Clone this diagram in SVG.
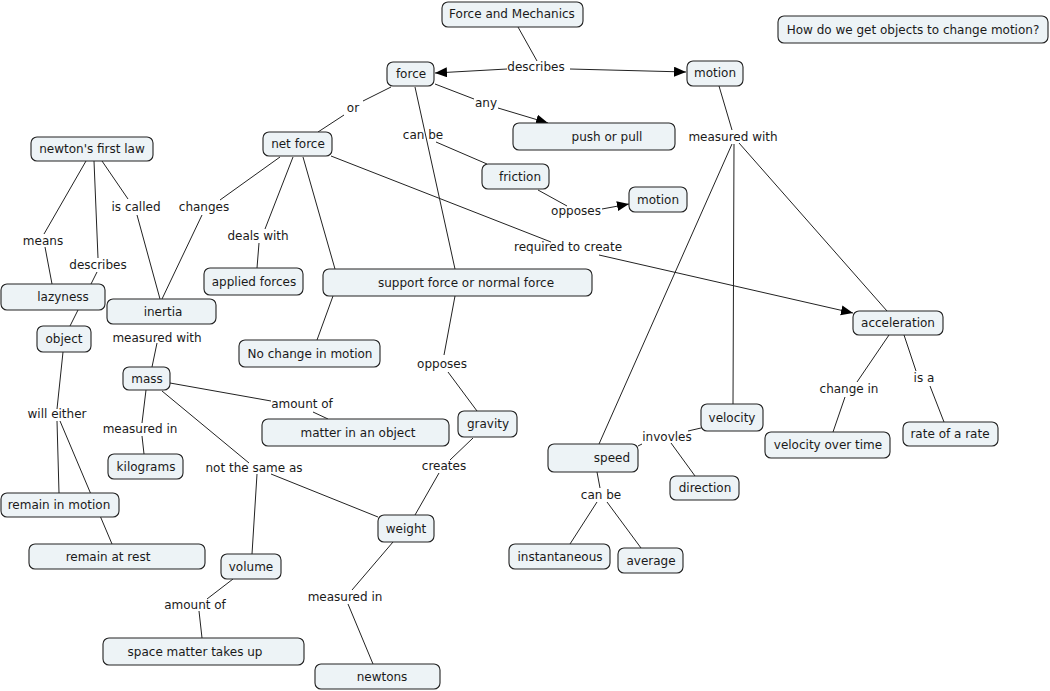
<svg xmlns="http://www.w3.org/2000/svg" width="1050" height="691" viewBox="0 0 1050 691">
<style>
.n rect{fill:#edf3f6;stroke:#222;stroke-width:1.1}
text{font-family:"DejaVu Sans",Verdana,sans-serif;font-size:12px;fill:#1a1a1a;text-anchor:middle}
#links line{stroke:#222;stroke-width:1}
#links line.a{marker-end:url(#arr)}
</style>
<defs>
<marker id="arr" markerUnits="userSpaceOnUse" markerWidth="13" markerHeight="11" refX="12" refY="5" orient="auto">
<path d="M0,0 L12,5 L0,10 Z" fill="#000"/>
</marker>
</defs>
<rect width="1050" height="691" fill="#fff"/>
<g id="links">
<line x1="518" y1="27" x2="537" y2="61"/>
<line class="a" x1="507" y1="69" x2="435" y2="73"/>
<line class="a" x1="570" y1="69" x2="686" y2="72"/>
<line x1="391" y1="87" x2="363" y2="101"/>
<line x1="344" y1="115" x2="318" y2="132"/>
<line x1="435" y1="84" x2="474" y2="99"/>
<line class="a" x1="498" y1="108" x2="548" y2="123"/>
<line x1="415" y1="87" x2="455" y2="269"/>
<line x1="436" y1="142" x2="487" y2="164"/>
<line x1="719" y1="86" x2="732" y2="130"/>
<line x1="732" y1="144" x2="599" y2="444"/>
<line x1="734" y1="144" x2="733" y2="404"/>
<line x1="739" y1="143" x2="887" y2="311"/>
<line x1="86" y1="161" x2="44" y2="234"/>
<line x1="45" y1="247" x2="52" y2="284"/>
<line x1="94" y1="161" x2="98" y2="258"/>
<line x1="97" y1="272" x2="70" y2="326"/>
<line x1="102" y1="161" x2="128" y2="199"/>
<line x1="137" y1="215" x2="160" y2="299"/>
<line x1="280" y1="157" x2="220" y2="200"/>
<line x1="202" y1="215" x2="162" y2="299"/>
<line x1="293" y1="157" x2="265" y2="229"/>
<line x1="259" y1="243" x2="257" y2="268"/>
<line x1="303" y1="157" x2="335" y2="269"/>
<line x1="333" y1="296" x2="317" y2="340"/>
<line x1="331" y1="156" x2="551" y2="242"/>
<line class="a" x1="599" y1="255" x2="853" y2="313"/>
<line x1="538" y1="190" x2="567" y2="206"/>
<line class="a" x1="602" y1="209" x2="629" y2="204"/>
<line x1="455" y1="296" x2="444" y2="355"/>
<line x1="448" y1="372" x2="477" y2="411"/>
<line x1="157" y1="343" x2="152" y2="367"/>
<line x1="63" y1="352" x2="57" y2="409"/>
<line x1="57" y1="421" x2="59" y2="493"/>
<line x1="60" y1="421" x2="112" y2="544"/>
<line x1="146" y1="390" x2="142" y2="423"/>
<line x1="142" y1="436" x2="144" y2="454"/>
<line x1="170" y1="383" x2="271" y2="401"/>
<line x1="313" y1="412" x2="328" y2="419"/>
<line x1="162" y1="391" x2="249" y2="463"/>
<line x1="257" y1="474" x2="252" y2="554"/>
<line x1="271" y1="474" x2="378" y2="517"/>
<line x1="473" y1="438" x2="450" y2="460"/>
<line x1="439" y1="473" x2="415" y2="515"/>
<line x1="233" y1="579" x2="207" y2="599"/>
<line x1="199" y1="611" x2="202" y2="638"/>
<line x1="393" y1="542" x2="352" y2="590"/>
<line x1="348" y1="604" x2="373" y2="664"/>
<line x1="889" y1="335" x2="857" y2="382"/>
<line x1="845" y1="397" x2="833" y2="432"/>
<line x1="904" y1="335" x2="916" y2="371"/>
<line x1="930" y1="386" x2="944" y2="422"/>
<line x1="701" y1="428" x2="688" y2="431"/>
<line x1="642" y1="444" x2="638" y2="446"/>
<line x1="671" y1="443" x2="695" y2="476"/>
<line x1="597" y1="472" x2="600" y2="488"/>
<line x1="597" y1="502" x2="570" y2="544"/>
<line x1="607" y1="502" x2="641" y2="548"/>
</g>
<g id="labels">
<text x="536" y="71">describes</text>
<text x="353" y="112">or</text>
<text x="486" y="107">any</text>
<text x="423" y="139">can be</text>
<text x="733" y="141">measured with</text>
<text x="136" y="211">is called</text>
<text x="204" y="211">changes</text>
<text x="43" y="245">means</text>
<text x="98" y="269">describes</text>
<text x="258" y="240">deals with</text>
<text x="576" y="215">opposes</text>
<text x="568" y="251">required to create</text>
<text x="157" y="342">measured with</text>
<text x="442" y="368">opposes</text>
<text x="57" y="418">will either</text>
<text x="302" y="408">amount of</text>
<text x="140" y="433">measured in</text>
<text x="849" y="393">change in</text>
<text x="924" y="382">is a</text>
<text x="667" y="441">invovles</text>
<text x="254" y="472">not the same as</text>
<text x="444" y="470">creates</text>
<text x="601" y="499">can be</text>
<text x="195" y="609">amount of</text>
<text x="345" y="601">measured in</text>
</g>
<g id="n-fm" class="n"><rect x="442" y="2" width="141" height="25" rx="6"/><text x="512" y="18">Force and Mechanics</text></g>
<g id="n-q" class="n"><rect x="778" y="16" width="270" height="27" rx="6"/><text x="913" y="33.5">How do we get objects to change motion?</text></g>
<g id="n-force" class="n"><rect x="387" y="62" width="47" height="24" rx="6"/><text x="411" y="78">force</text></g>
<g id="n-motion1" class="n"><rect x="687" y="61" width="56" height="25" rx="6"/><text x="715" y="77">motion</text></g>
<g id="n-push" class="n"><rect x="513" y="123" width="162" height="27" rx="6"/><text x="607" y="140.5">push or pull</text></g>
<g id="n-net" class="n"><rect x="263" y="132" width="69" height="24" rx="6"/><text x="298" y="148">net force</text></g>
<g id="n-newton" class="n"><rect x="31" y="137" width="122" height="24" rx="6"/><text x="92" y="153">newton's first law</text></g>
<g id="n-friction" class="n"><rect x="482" y="164" width="67" height="25" rx="6"/><text x="520" y="180.5">friction</text></g>
<g id="n-motion2" class="n"><rect x="629" y="187" width="58" height="25" rx="6"/><text x="658" y="203.5">motion</text></g>
<g id="n-applied" class="n"><rect x="204" y="268" width="99" height="27" rx="6"/><text x="254" y="285.5">applied forces</text></g>
<g id="n-support" class="n"><rect x="323" y="269" width="269" height="27" rx="6"/><text x="466" y="286.5">support force or normal force</text></g>
<g id="n-lazy" class="n"><rect x="1" y="284" width="104" height="26" rx="6"/><text x="63" y="301">lazyness</text></g>
<g id="n-inertia" class="n"><rect x="107" y="299" width="109" height="25" rx="6"/><text x="163" y="315.5">inertia</text></g>
<g id="n-accel" class="n"><rect x="853" y="311" width="90" height="24" rx="6"/><text x="898" y="327">acceleration</text></g>
<g id="n-object" class="n"><rect x="37" y="326" width="54" height="26" rx="6"/><text x="64" y="343">object</text></g>
<g id="n-nochange" class="n"><rect x="239" y="340" width="141" height="27" rx="6"/><text x="310" y="357.5">No change in motion</text></g>
<g id="n-mass" class="n"><rect x="123" y="367" width="47" height="23" rx="6"/><text x="147" y="382.5">mass</text></g>
<g id="n-velocity" class="n"><rect x="701" y="404" width="62" height="27" rx="6"/><text x="732" y="421.5">velocity</text></g>
<g id="n-gravity" class="n"><rect x="458" y="411" width="59" height="26" rx="6"/><text x="488" y="428">gravity</text></g>
<g id="n-matter" class="n"><rect x="262" y="419" width="187" height="27" rx="6"/><text x="358" y="436.5">matter in an object</text></g>
<g id="n-rate" class="n"><rect x="903" y="422" width="95" height="24" rx="6"/><text x="950" y="438">rate of a rate</text></g>
<g id="n-vot" class="n"><rect x="765" y="432" width="125" height="26" rx="6"/><text x="828" y="449">velocity over time</text></g>
<g id="n-speed" class="n"><rect x="548" y="444" width="90" height="28" rx="6"/><text x="612" y="462">speed</text></g>
<g id="n-kg" class="n"><rect x="108" y="454" width="75" height="25" rx="6"/><text x="146" y="470.5">kilograms</text></g>
<g id="n-direction" class="n"><rect x="670" y="476" width="69" height="24" rx="6"/><text x="705" y="492">direction</text></g>
<g id="n-rim" class="n"><rect x="1" y="493" width="118" height="24" rx="6"/><text x="59" y="509">remain in motion</text></g>
<g id="n-weight" class="n"><rect x="378" y="515" width="56" height="27" rx="6"/><text x="406" y="532.5">weight</text></g>
<g id="n-rar" class="n"><rect x="29" y="544" width="176" height="25" rx="6"/><text x="108" y="560.5">remain at rest</text></g>
<g id="n-inst" class="n"><rect x="509" y="544" width="101" height="25" rx="6"/><text x="560" y="560.5">instantaneous</text></g>
<g id="n-avg" class="n"><rect x="618" y="548" width="65" height="25" rx="6"/><text x="651" y="564.5">average</text></g>
<g id="n-volume" class="n"><rect x="221" y="554" width="60" height="25" rx="6"/><text x="251" y="570.5">volume</text></g>
<g id="n-space" class="n"><rect x="103" y="638" width="201" height="27" rx="6"/><text x="195" y="655.5">space matter takes up</text></g>
<g id="n-newtons" class="n"><rect x="315" y="664" width="125" height="25" rx="6"/><text x="382" y="680.5">newtons</text></g>
</svg>
